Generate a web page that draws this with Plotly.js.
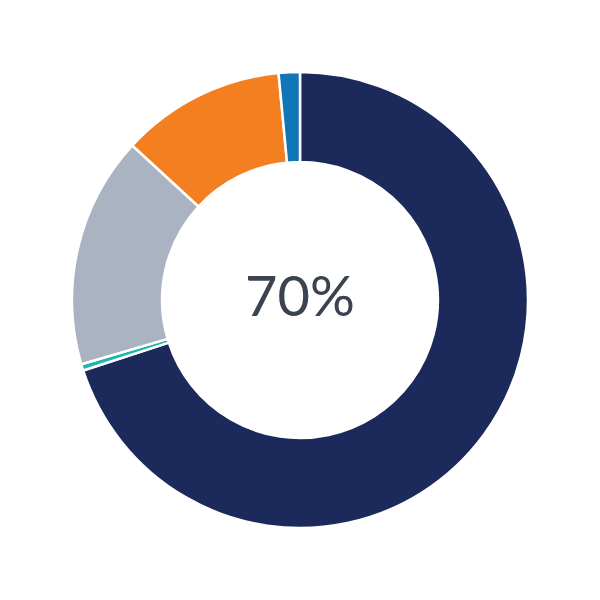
<!DOCTYPE html>
<html>
<head>
<meta charset="utf-8">
<script src="https://cdn.plot.ly/plotly-3.0.1.min.js"></script>
<style>html,body{margin:0;padding:0;background:#fff;}#chart{width:600px;height:600px;}</style>
</head>
<body>
<div id="chart"></div>
<script>
const labels = ["Navy", "Teal", "Gray", "Orange", "Blue"];
const values = [70, 0.45, 16.4, 11.65, 1.5];
const colors = ["#1b2a5a", "#22b5ae", "#a9b3c1", "#f47f20", "#1176b6"];
const centerText = "70%";

Plotly.newPlot("chart", [{
  type: "pie",
  labels: labels,
  values: values,
  hole: 0.605,
  sort: false,
  direction: "clockwise",
  rotation: 0,
  textinfo: "none",
  hoverinfo: "none",
  marker: {colors: colors, line: {color: "#ffffff", width: 2.5}},
  showlegend: false
}], {
  width: 600, height: 600,
  margin: {l: 72, r: 72, t: 72, b: 72},
  paper_bgcolor: "#ffffff",
  annotations: [{
    text: centerText, x: 0.5, y: 0.5, xref: "paper", yref: "paper", yshift: 6,
    showarrow: false, font: {family: "Lato", size: 56, color: "#3b4350"}
  }]
}, {staticPlot: true});
</script>
</body>
</html>
